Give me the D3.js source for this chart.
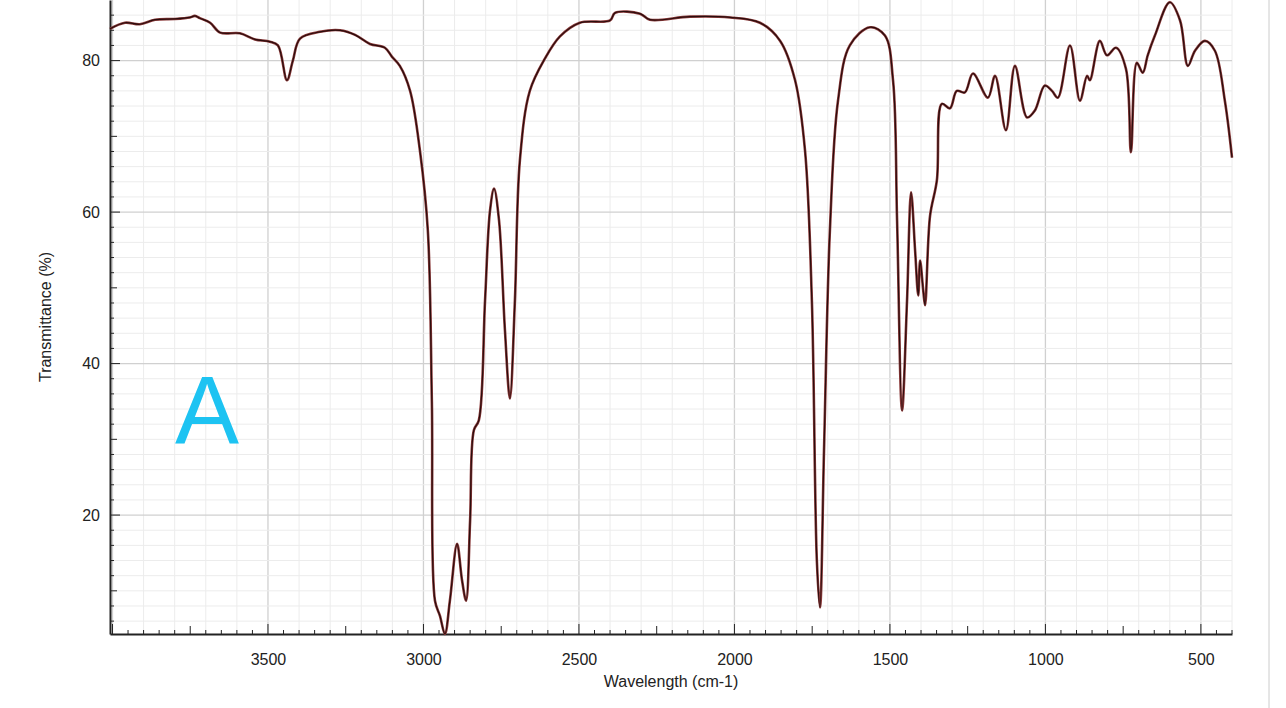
<!DOCTYPE html>
<html><head><meta charset="utf-8">
<script src="https://cdn.jsdelivr.net/npm/d3@7"></script>
<style>
body{margin:0;background:#fff;font-family:"Liberation Sans",Arial,sans-serif;}
</style></head><body>
<script>
const wavenumbers = [4008,3960,3912,3863,3799,3751,3735,3719,3686,3654,3590,3542,3494,3468,3439,3420,3397,3333,3268,3220,3172,3124,3101,3076,3043,3011,2986,2973,2963,2947,2931,2915,2892,2876,2863,2850,2838,2822,2802,2786,2773,2757,2738,2722,2706,2690,2658,2609,2561,2497,2400,2384,2304,2272,2143,2014,1918,1853,1805,1773,1751,1735,1725,1712,1693,1667,1629,1564,1516,1490,1477,1461,1445,1432,1419,1409,1403,1393,1387,1371,1349,1333,1307,1285,1259,1233,1185,1162,1127,1098,1059,1034,1002,979,960,921,889,866,857,825,802,773,741,725,706,687,671,648,600,567,542,519,487,455,423,400];
const transmittance = [84.2,85.0,84.8,85.4,85.5,85.7,85.9,85.6,85.0,83.7,83.6,82.8,82.5,82.0,77.4,80.0,82.9,83.8,84.0,83.4,82.2,81.7,80.5,79.3,76.0,68.0,57.6,35.0,8.7,6.7,4.3,8.7,16.2,11.4,8.7,19.3,31.2,32.5,48.3,60.2,63.1,58.9,44.4,35.4,48.3,66.8,76.0,80.3,83.2,85.0,85.3,86.3,86.2,85.4,85.8,85.7,85.0,82.6,77.4,68.1,48.3,14.0,7.8,28.5,57.6,74.7,82.0,84.4,83.3,77.4,58.9,33.8,48.3,62.6,54.9,49.0,53.6,49.7,47.7,59.5,64.2,74.3,73.7,76.0,75.8,78.3,75.1,78.0,70.8,79.3,72.5,73.4,76.7,76.0,75.1,82.0,74.7,78.0,77.4,82.6,80.7,81.7,78.9,67.9,79.7,78.4,80.7,83.3,87.7,85.3,79.3,81.3,82.6,81.3,74.7,67.2];
const xTicks = [3500,3000,2500,2000,1500,1000,500];
const yTicks = [20,40,60,80];

const W = 1286, H = 708;
const M = {left:110, top:0, right:1232, bottom:634};
const svg = d3.select("body").append("svg").attr("width", W).attr("height", H);
const x = d3.scaleLinear().domain([4008,400]).range([M.left, M.right]);
const y = d3.scaleLinear().domain([4.3,88]).range([M.bottom, M.top]);

const grid = svg.append("g");
d3.range(400, 4001, 100).forEach(v => grid.append("line")
  .attr("x1", x(v)).attr("x2", x(v)).attr("y1", M.top).attr("y2", M.bottom)
  .attr("stroke", v % 500 === 0 ? "#d0d0d0" : "#ececec").attr("stroke-width", v % 500 === 0 ? 1.3 : 1));
d3.range(6, 88, 2).forEach(v => grid.append("line")
  .attr("x1", M.left).attr("x2", M.right).attr("y1", y(v)).attr("y2", y(v))
  .attr("stroke", v % 20 === 0 ? "#d0d0d0" : "#ececec").attr("stroke-width", v % 20 === 0 ? 1.3 : 1));

// small tick marks
const tk = svg.append("g").attr("stroke", "#222");
d3.range(400, 4001, 50).forEach(v => {
  const len = v % 500 === 0 ? 10 : (v % 250 === 0 ? 8 : 4);
  tk.append("line").attr("x1", x(v)).attr("x2", x(v)).attr("y1", M.bottom).attr("y2", M.bottom - len);
});
d3.range(6, 88, 2).forEach(v => {
  const len = v % 20 === 0 ? 10 : (v % 10 === 0 ? 7 : 4);
  tk.append("line").attr("x1", M.left).attr("x2", M.left + len).attr("y1", y(v)).attr("y2", y(v));
});

svg.append("g").attr("transform", `translate(0,${M.bottom})`)
  .call(d3.axisBottom(x).tickValues(xTicks).tickFormat(d3.format("d")).tickSize(0).tickPadding(20).tickSizeOuter(0))
  .call(g => g.attr("font-size", 16).attr("font-family", "Liberation Sans, Arial, sans-serif"))
  .call(g => g.selectAll(".tick text").attr("fill", "#222"))
  .call(g => g.select(".domain").attr("stroke", "#222").attr("stroke-width", 2));
svg.append("g").attr("transform", `translate(${M.left},0)`)
  .call(d3.axisLeft(y).tickValues(yTicks).tickSize(0).tickPadding(10).tickSizeOuter(0))
  .call(g => g.attr("font-size", 16).attr("font-family", "Liberation Sans, Arial, sans-serif"))
  .call(g => g.selectAll(".tick text").attr("fill", "#222"))
  .call(g => g.select(".domain").attr("stroke", "#222").attr("stroke-width", 2));

const line = d3.line().x((d, i) => x(wavenumbers[i])).y(d => y(d)).curve(d3.curveCatmullRom.alpha(0.5));
svg.append("path").datum(transmittance).attr("d", line)
  .attr("fill", "none").attr("stroke", "#8a3a3a").attr("stroke-width", 2.6).attr("stroke-linejoin", "round");
svg.append("path").datum(transmittance).attr("d", line)
  .attr("fill", "none").attr("stroke", "#2a0c0c").attr("stroke-width", 1.2).attr("stroke-linejoin", "round");

svg.append("text").attr("x", (M.left + M.right) / 2).attr("y", 687).attr("text-anchor", "middle")
  .attr("font-size", 16).attr("fill", "#222").text("Wavelength (cm-1)");
svg.append("text").attr("transform", "translate(51,317) rotate(-90)").attr("text-anchor", "middle")
  .attr("font-size", 16).attr("fill", "#222").text("Transmittance (%)");
svg.append("text").attr("x", 175).attr("y", 443).attr("font-size", 96).attr("fill", "#1dc3f2").text("A");
svg.append("line").attr("x1", 1269).attr("x2", 1269).attr("y1", 0).attr("y2", H).attr("stroke", "#ccc");
</script>
</body></html>
